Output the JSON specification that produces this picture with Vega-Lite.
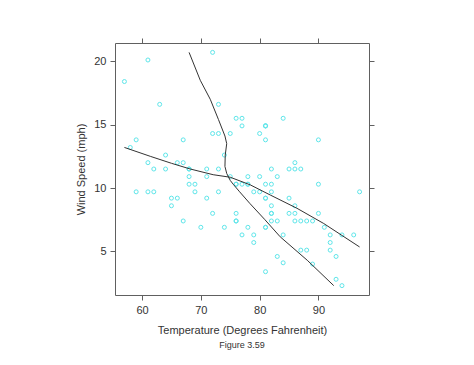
{
  "$schema": "https://vega.github.io/schema/vega-lite/v6.json",
  "autosize": "none",
  "width": 254,
  "height": 252,
  "padding": {"left": 115, "top": 43, "right": 105, "bottom": 70},
  "background": "white",
  "config": {
    "view": {"stroke": "#606060", "strokeWidth": 1},
    "font": "Liberation Sans",
    "axis": {
      "grid": false,
      "domain": false,
      "tickColor": "#606060",
      "tickSize": 5,
      "labelFont": "Liberation Sans",
      "labelFontSize": 11,
      "labelColor": "#333333",
      "titleFont": "Liberation Sans",
      "titleFontSize": 11,
      "titleFontWeight": "normal",
      "titleColor": "#333333"
    }
  },
  "title": {
    "text": "Figure 3.59",
    "orient": "bottom",
    "anchor": "middle",
    "font": "Liberation Sans",
    "fontSize": 9,
    "fontWeight": "normal",
    "color": "#333333",
    "offset": 6
  },
  "datasets": {
    "env": [
      {"Temp": 67, "Wind": 7.4}, {"Temp": 72, "Wind": 8.0}, {"Temp": 74, "Wind": 12.6}, {"Temp": 62, "Wind": 11.5},
      {"Temp": 65, "Wind": 8.6}, {"Temp": 59, "Wind": 13.8}, {"Temp": 61, "Wind": 20.1}, {"Temp": 69, "Wind": 9.7},
      {"Temp": 66, "Wind": 9.2}, {"Temp": 68, "Wind": 10.9}, {"Temp": 58, "Wind": 13.2}, {"Temp": 64, "Wind": 11.5},
      {"Temp": 66, "Wind": 12.0}, {"Temp": 57, "Wind": 18.4}, {"Temp": 68, "Wind": 11.5}, {"Temp": 62, "Wind": 9.7},
      {"Temp": 59, "Wind": 9.7}, {"Temp": 73, "Wind": 16.6}, {"Temp": 61, "Wind": 9.7}, {"Temp": 61, "Wind": 12.0},
      {"Temp": 67, "Wind": 12.0}, {"Temp": 81, "Wind": 14.9}, {"Temp": 79, "Wind": 5.7}, {"Temp": 76, "Wind": 7.4},
      {"Temp": 82, "Wind": 9.7}, {"Temp": 90, "Wind": 13.8}, {"Temp": 87, "Wind": 11.5}, {"Temp": 82, "Wind": 8.0},
      {"Temp": 77, "Wind": 14.9}, {"Temp": 72, "Wind": 20.7}, {"Temp": 65, "Wind": 9.2}, {"Temp": 73, "Wind": 11.5},
      {"Temp": 76, "Wind": 10.3}, {"Temp": 84, "Wind": 4.1}, {"Temp": 85, "Wind": 9.2}, {"Temp": 81, "Wind": 9.2},
      {"Temp": 83, "Wind": 4.6}, {"Temp": 83, "Wind": 10.9}, {"Temp": 88, "Wind": 5.1}, {"Temp": 92, "Wind": 6.3},
      {"Temp": 92, "Wind": 5.7}, {"Temp": 89, "Wind": 7.4}, {"Temp": 73, "Wind": 14.3}, {"Temp": 81, "Wind": 14.9},
      {"Temp": 80, "Wind": 14.3}, {"Temp": 81, "Wind": 6.9}, {"Temp": 82, "Wind": 10.3}, {"Temp": 84, "Wind": 6.3},
      {"Temp": 87, "Wind": 5.1}, {"Temp": 85, "Wind": 11.5}, {"Temp": 74, "Wind": 6.9}, {"Temp": 86, "Wind": 8.6},
      {"Temp": 85, "Wind": 8.0}, {"Temp": 82, "Wind": 8.6}, {"Temp": 86, "Wind": 12.0}, {"Temp": 88, "Wind": 7.4},
      {"Temp": 86, "Wind": 7.4}, {"Temp": 83, "Wind": 7.4}, {"Temp": 81, "Wind": 9.2}, {"Temp": 81, "Wind": 6.9},
      {"Temp": 81, "Wind": 13.8}, {"Temp": 82, "Wind": 7.4}, {"Temp": 89, "Wind": 4.0}, {"Temp": 90, "Wind": 10.3},
      {"Temp": 90, "Wind": 8.0}, {"Temp": 86, "Wind": 11.5}, {"Temp": 82, "Wind": 11.5}, {"Temp": 80, "Wind": 9.7},
      {"Temp": 77, "Wind": 10.3}, {"Temp": 79, "Wind": 6.3}, {"Temp": 76, "Wind": 7.4}, {"Temp": 78, "Wind": 10.9},
      {"Temp": 78, "Wind": 10.3}, {"Temp": 77, "Wind": 15.5}, {"Temp": 72, "Wind": 14.3}, {"Temp": 79, "Wind": 9.7},
      {"Temp": 81, "Wind": 3.4}, {"Temp": 86, "Wind": 8.0}, {"Temp": 97, "Wind": 9.7}, {"Temp": 94, "Wind": 2.3},
      {"Temp": 96, "Wind": 6.3}, {"Temp": 94, "Wind": 6.3}, {"Temp": 91, "Wind": 6.9}, {"Temp": 92, "Wind": 5.1},
      {"Temp": 93, "Wind": 2.8}, {"Temp": 93, "Wind": 4.6}, {"Temp": 87, "Wind": 7.4}, {"Temp": 84, "Wind": 15.5},
      {"Temp": 80, "Wind": 10.9}, {"Temp": 78, "Wind": 10.3}, {"Temp": 75, "Wind": 10.9}, {"Temp": 73, "Wind": 9.7},
      {"Temp": 81, "Wind": 14.9}, {"Temp": 76, "Wind": 15.5}, {"Temp": 77, "Wind": 6.3}, {"Temp": 71, "Wind": 10.9},
      {"Temp": 71, "Wind": 11.5}, {"Temp": 78, "Wind": 6.9}, {"Temp": 67, "Wind": 13.8}, {"Temp": 76, "Wind": 10.3},
      {"Temp": 68, "Wind": 10.3}, {"Temp": 82, "Wind": 8.0}, {"Temp": 64, "Wind": 12.6}, {"Temp": 71, "Wind": 9.2},
      {"Temp": 81, "Wind": 10.3}, {"Temp": 69, "Wind": 10.3}, {"Temp": 63, "Wind": 16.6}, {"Temp": 70, "Wind": 6.9},
      {"Temp": 75, "Wind": 14.3}, {"Temp": 76, "Wind": 8.0}, {"Temp": 68, "Wind": 11.5}
    ],
    "fitWindOnTemp": [
      {"Temp": 57, "Wind": 13.2}, {"Temp": 61.4, "Wind": 12.5}, {"Temp": 65, "Wind": 11.95},
      {"Temp": 68.2, "Wind": 11.5}, {"Temp": 72.1, "Wind": 11.05}, {"Temp": 75, "Wind": 10.85},
      {"Temp": 78.4, "Wind": 10.25}, {"Temp": 81.8, "Wind": 9.45}, {"Temp": 86.35, "Wind": 8.4},
      {"Temp": 90.9, "Wind": 7.2}, {"Temp": 97, "Wind": 5.35}
    ],
    "fitTempOnWind": [
      {"Wind": 20.7, "Temp": 68.0}, {"Wind": 18.5, "Temp": 69.9}, {"Wind": 17.0, "Temp": 71.6},
      {"Wind": 15.4, "Temp": 73.0}, {"Wind": 14.1, "Temp": 74.1}, {"Wind": 13.5, "Temp": 74.4},
      {"Wind": 12.6, "Temp": 74.15}, {"Wind": 11.7, "Temp": 74.1}, {"Wind": 11.15, "Temp": 74.4},
      {"Wind": 10.6, "Temp": 75.0}, {"Wind": 10.3, "Temp": 75.5}, {"Wind": 9.7, "Temp": 76.6},
      {"Wind": 8.8, "Temp": 78.3}, {"Wind": 7.5, "Temp": 80.9}, {"Wind": 6.15, "Temp": 83.5},
      {"Wind": 4.3, "Temp": 88.1}, {"Wind": 2.3, "Temp": 92.6}
    ]
  },
  "layer": [
    {
      "data": {"name": "env"},
      "mark": {"type": "point", "shape": "circle", "filled": false, "stroke": "#5fe6ea", "strokeWidth": 1, "size": 16, "opacity": 1},
      "encoding": {
        "x": {"field": "Temp", "type": "quantitative",
              "scale": {"domain": [55.4, 98.6], "nice": false, "zero": false},
              "axis": {"orient": "bottom", "values": [60, 70, 80, 90], "title": "Temperature (Degrees Fahrenheit)", "labelPadding": 4, "titlePadding": 9}},
        "y": {"field": "Wind", "type": "quantitative",
              "scale": {"domain": [1.56, 21.44], "nice": false, "zero": false},
              "axis": {"orient": "left", "values": [5, 10, 15, 20], "title": "Wind Speed (mph)", "labelPadding": 4, "titlePadding": 7}}
      }
    },
    {
      "data": {"name": "fitWindOnTemp"},
      "mark": {"type": "line", "color": "#333333", "strokeWidth": 1},
      "encoding": {
        "x": {"field": "Temp", "type": "quantitative",
              "axis": {"orient": "top", "values": [60, 70, 80, 90], "labels": false, "title": null}},
        "y": {"field": "Wind", "type": "quantitative",
              "axis": {"orient": "right", "values": [5, 10, 15, 20], "labels": false, "title": null}}
      }
    },
    {
      "data": {"name": "fitTempOnWind"},
      "mark": {"type": "line", "color": "#333333", "strokeWidth": 1},
      "encoding": {
        "x": {"field": "Temp", "type": "quantitative", "axis": null},
        "y": {"field": "Wind", "type": "quantitative", "axis": null},
        "order": {"field": "Wind", "type": "quantitative"}
      }
    }
  ],
  "resolve": {"axis": {"x": "independent", "y": "independent"}}
}
